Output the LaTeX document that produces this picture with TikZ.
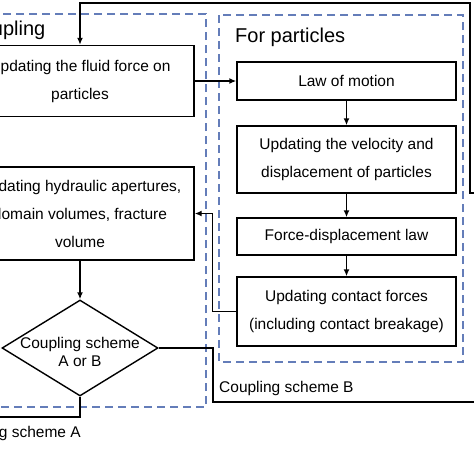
\documentclass[tikz,border=0pt]{standalone}
\usepackage{fontspec}
\setmainfont{Liberation Sans}
\usetikzlibrary{shapes.geometric,arrows.meta}
\definecolor{dashblue}{RGB}{100,125,185}

\begin{document}
\begin{tikzpicture}[x=1pt,y=-1pt,
  box/.style={draw, line width=1.4pt, align=center, inner sep=0pt, font=\fontsize{15.5}{28}\selectfont},
  decision/.style={draw, diamond, line width=1.4pt, minimum width=156pt, minimum height=96pt, inner sep=0pt},
  arr/.style={-{Latex[length=7pt,width=6pt]}, line width=1.4pt},
  link/.style={line width=1.4pt},
  frame/.style={dashblue, line width=1.3pt, dash pattern=on 8pt off 5pt},
  txt/.style={inner sep=0pt, font=\fontsize{15.5}{18}\selectfont},
  title/.style={inner sep=0pt, font=\fontsize{20}{24}\selectfont}]
\useasboundingbox (0,0) rectangle (474,474);
\clip (0,0) rectangle (474,474);

\draw[frame] (-100,14) rectangle (206,407);
\draw[frame] (219,15) rectangle (463,362);

\node[box, minimum width=228pt, minimum height=71pt] (fluid) at (80,81) {Updating the fluid force on\\particles};
\node[box, minimum width=228pt, minimum height=93pt] (hydro) at (80,213.5) {Updating hydraulic apertures,\\domain volumes, fracture\\volume};
\node[decision] (scheme) at (80,348) {};
\node[txt, align=center] (schemetxt) at (80,352) {Coupling scheme\\A or B};

\node[box, minimum width=219pt, minimum height=38pt] (motion) at (346.5,81) {Law of motion};
\node[box, minimum width=219pt, minimum height=67pt] (velocity) at (346.5,159.5) {Updating the velocity and\\displacement of particles};
\node[box, minimum width=219pt, minimum height=37pt] (forcelaw) at (346.5,236.5) {Force-displacement law};
\node[box, minimum width=219pt, minimum height=69pt] (contact) at (346.5,311.5) {Updating contact forces\\(including contact breakage)};

\node[title, anchor=base east] (fortitle) at (45.5,35) {For coupling};
\node[title, anchor=base west] (partitle) at (235,42) {For particles};
\node[txt, anchor=base west] (labB) at (219,392) {Coupling scheme B};
\node[txt, anchor=base east] (labA) at (81,437) {Coupling scheme A};

\draw[arr] (fluid.east) -- (motion.west);
\draw[arr] (motion.south) -- (velocity.north);
\draw[arr] (velocity.south) -- (forcelaw.north);
\draw[arr] (forcelaw.south) -- (contact.north);
\draw[arr] (contact.west) -- ++(-24,0) |- (hydro.east);
\draw[arr] (hydro.south) -- (scheme.north);

\coordinate (loopin) at (474,193);
\coordinate (loopturn) at (470,3);
\draw[arr] (loopin) -| (loopturn) -| (fluid.north);

\coordinate (turnB) at (213,402);
\coordinate (outB) at (474,402);
\draw[link] (scheme.east) -| (turnB) -- (outB);

\coordinate (outA) at (0,417);
\draw[link] (scheme.south) |- (outA);
\end{tikzpicture}
\end{document}
